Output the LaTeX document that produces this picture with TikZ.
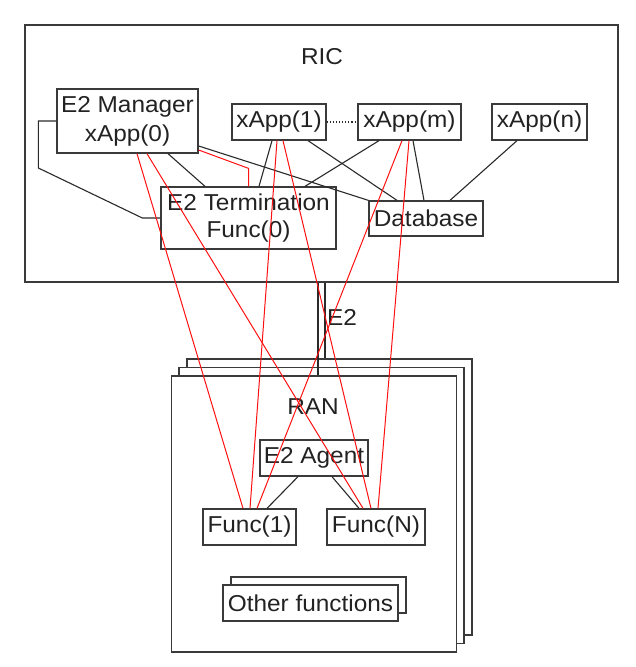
\documentclass[tikz,border=0pt]{standalone}
\usepackage{fontspec}
\usetikzlibrary{calc}
\setmainfont{Liberation Sans}[FakeStretch=1.06]
\newcommand\diafont{\fontsize{23}{29}\selectfont}
\definecolor{boxc}{HTML}{3A3A3A}
\definecolor{linec}{HTML}{2A2A2A}
\definecolor{txtc}{HTML}{222222}
\definecolor{redl}{HTML}{FF1010}
\begin{document}
\begin{tikzpicture}[x=1pt,y=-1pt,
  box/.style={draw=boxc, line width=1.3pt, fill=white, inner sep=0pt, font=\diafont, text=txtc, align=center},
  lab/.style={inner sep=0pt, font=\diafont, text=txtc},
  conn/.style={draw=linec, line width=1.1pt},
  redc/.style={draw=redl, line width=1.0pt}]
\useasboundingbox (0,0) rectangle (636,667);
% RIC
\node[box, minimum width=593pt, minimum height=257pt] (ric) at (321.5,153.5) {};
\node[lab] (riclab) at (322,57) {RIC};
\node[box, minimum width=141pt, minimum height=64pt] (man) at (127.5,121) {E2 Manager\\xApp(0)};
\node[box, minimum width=94pt, minimum height=36pt] (x1) at (279,122) {xApp(1)};
\node[box, minimum width=103pt, minimum height=36pt] (xm) at (409.5,122) {xApp(m)};
\node[box, minimum width=95pt, minimum height=36pt] (xn) at (539.5,122) {xApp(n)};
\node[box, minimum width=175pt, minimum height=62pt] (term) at (248.5,218) {E2 Termination\\[-2pt]Func(0)};
\node[box, minimum width=114pt, minimum height=35pt] (db) at (426,218.5) {Database};
% RAN
\node[box, minimum width=285pt, minimum height=276pt] (ranC) at (329.5,497) {};
\node[box, minimum width=285pt, minimum height=276pt] (ranB) at (321.5,505.5) {};
\node[box, minimum width=285pt, minimum height=276pt] (ranA) at (314,514) {};
\node[lab] (ranlab) at (313,407) {RAN};
\node[box, minimum width=108pt, minimum height=36pt] (agent) at (314,458) {E2 Agent};
\node[box, minimum width=93pt, minimum height=36pt] (f1) at (249.5,527) {Func(1)};
\node[box, minimum width=98pt, minimum height=36pt] (fN) at (376,527) {Func(N)};
\node[box, minimum width=175pt, minimum height=36pt] (othB) at (318.5,595) {};
\node[box, minimum width=175pt, minimum height=36pt] (othA) at (310.5,603) {Other functions};
% E2 link
\draw[conn, line width=1.3pt] ([xshift=-3.5pt]ric.south) -- ([xshift=4pt]ranA.north);
\draw[conn, line width=1.3pt] ([xshift=3.5pt]ric.south) -- ([xshift=-4.5pt]ranC.north);
\node[lab] (e2lab) at (342,317) {E2};
% black connectors
\draw[conn] (man.west) -- ++(-18,0) -- ++(0,47) -- ($(term.west)+(-18,0)$) -- (term.west);
\draw[conn] ([xshift=40.5pt]man.south) -- ([xshift=-43.5pt]term.north);
\draw[conn] ([yshift=-25pt]man.east) -- (db.north west);
\draw[conn] ([xshift=-7pt]x1.south) -- ([xshift=10.5pt]term.north);
\draw[conn] ([xshift=29pt]x1.south) -- ([xshift=-29pt]db.north);
\draw[conn] ([xshift=-30.5pt]xm.south) -- ([xshift=56.5pt]term.north);
\draw[conn] ([xshift=3.5pt]xm.south) -- ([xshift=-2pt]db.north);
\draw[conn] ([xshift=-22.5pt]xn.south) -- ([xshift=24pt]db.north);
\draw[conn, dotted, line width=1.2pt] (x1.east) -- (xm.west);
\draw[conn] ([xshift=-16pt]agent.south) -- ([xshift=17.5pt]f1.north);
\draw[conn] ([xshift=18pt]agent.south) -- ([xshift=-17pt]fN.north);
% red connectors
\draw[redc] ([yshift=-29pt]man.east) -- ($(term.north)+(0,-18)$) -- (term.north);
\draw[redc] ([xshift=9.5pt]man.south) -- ([xshift=-6.5pt]f1.north);
\draw[redc] ([xshift=19.5pt]man.south) -- ([xshift=-13pt]fN.north);
\draw[redc] ([xshift=-2pt]x1.south) -- ([xshift=0.5pt]f1.north);
\draw[redc] ([xshift=4pt]x1.south) -- ([xshift=-5pt]fN.north);
\draw[redc] ([xshift=-7.5pt]xm.south) -- ([xshift=7.5pt]f1.north);
\draw[redc] ([xshift=-0.5pt]xm.south) -- ([xshift=2pt]fN.north);
\end{tikzpicture}
\end{document}
